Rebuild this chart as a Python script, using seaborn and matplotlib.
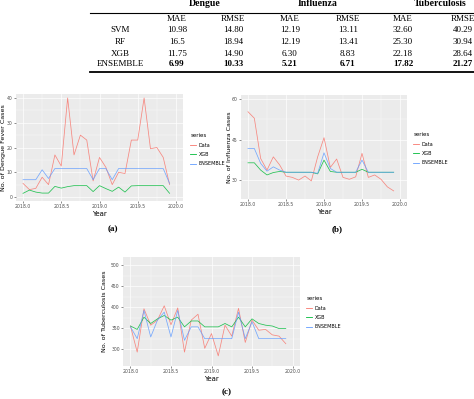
import numpy as np
import pandas as pd
import matplotlib
matplotlib.use("Agg")
import matplotlib.pyplot as plt
from matplotlib.lines import Line2D
import seaborn as sns

# ---- table values ----
models = ["SVM", "RF", "XGB", "ENSEMBLE"]
diseases = ["Dengue", "Influenza", "Tuberculosis"]
dengue_mae = ["10.98", "16.5", "11.75", "6.99"]
dengue_rmse = ["14.80", "18.94", "14.90", "10.33"]
flu_mae = ["12.19", "12.19", "6.30", "5.21"]
flu_rmse = ["13.11", "13.41", "8.83", "6.71"]
tb_mae = ["32.60", "25.30", "22.18", "17.82"]
tb_rmse = ["40.29", "30.94", "28.64", "21.27"]

# ---- monthly series, Jan 2018 .. Dec 2019 ----
years = 2018 + np.arange(24) / 12
series_names = ["Data", "XGB", "ENSEMBLE"]

dengue_data = [5.5, 3, 3.5, 8, 5, 17, 12.5, 40, 17, 25, 23, 6.5,
               16, 12, 5, 10, 9.5, 23, 23, 40, 19.5, 20, 16, 5]
dengue_xgb = [1.5, 2.8, 2.0, 1.6, 1.6, 4.3, 3.6, 4.2, 4.6, 4.6, 4.6, 2.2,
              4.6, 3.4, 2.3, 4.0, 2.0, 4.5, 4.6, 4.6, 4.6, 4.6, 4.6, 1.5]
dengue_ens = [7, 7, 7, 11, 7.5, 11.5, 11.5, 11.5, 11.5, 11.5, 11.5, 7,
              11.5, 11.5, 7, 11.5, 11.5, 11.5, 11.5, 11.5, 11.5, 11.5, 11.5, 5.5]

flu_data = [55.3, 52.9, 38.0, 33.7, 38.6, 35.6, 31.5, 31.0, 30.0, 31.5, 29.7, 38.6,
            45.7, 34.7, 37.8, 31.0, 30.3, 31.2, 39.9, 31.0, 31.9, 30.3, 27.5, 26.0]
flu_xgb = [36.4, 36.4, 33.7, 31.9, 32.8, 33.2, 32.9, 32.9, 32.9, 32.9, 32.9, 32.3,
           37.4, 33.2, 32.9, 32.9, 32.9, 32.9, 34.0, 32.9, 32.9, 32.9, 32.9, 32.9]
flu_ens = [41.7, 41.7, 36.2, 33.3, 34.9, 33.7, 32.9, 32.9, 32.9, 32.9, 32.9, 32.5,
           40.1, 34.3, 32.9, 32.9, 32.9, 32.9, 37.4, 32.9, 32.9, 32.9, 32.9, 32.9]

tb_data = [355, 293, 396, 357, 369, 403, 358, 398, 293, 369, 383, 302,
           337, 284, 357, 331, 397, 316, 369, 345, 347, 334, 331, 313]
tb_xgb = [355, 347, 376, 361, 372, 380, 369, 376, 353, 367, 367, 353,
          353, 353, 361, 353, 376, 353, 372, 361, 357, 355, 349, 349]
tb_ens = [353, 325, 392, 329, 369, 388, 329, 392, 321, 353, 353, 325,
          325, 325, 325, 325, 388, 325, 365, 325, 325, 325, 325, 325]

palette = {"Data": "#F8766D", "XGB": "#00BA38", "ENSEMBLE": "#619CFF"}

W, H = 474, 399
fig = plt.figure(figsize=(W / 100, H / 100), dpi=100)


def fx(x):
    return x / W


def fy(y):
    return 1 - y / H


def rect(l, t, r, b):
    return [l / W, 1 - b / H, (r - l) / W, (b - t) / H]


def long_df(data, xgb, ens):
    return pd.DataFrame({
        "Year": np.tile(years, 3),
        "value": np.concatenate([data, xgb, ens]),
        "series": np.repeat(series_names, 24),
    })


def panel(box, df, ylim, yticks, ylabel, ylab_x, leg_xy, tag, tag_xy):
    ax = fig.add_axes(rect(*box))
    sns.lineplot(data=df, x="Year", y="value", hue="series", palette=palette,
                 hue_order=series_names, lw=0.55, alpha=0.85, legend=False, ax=ax)
    ax.set_facecolor("#EBEBEB")
    for s in ax.spines.values():
        s.set_visible(False)
    ax.set_xlim(2017.908, 2020.092)
    ax.set_ylim(*ylim)
    ax.set_xticks([2018, 2018.5, 2019, 2019.5, 2020])
    ax.set_xticklabels(["2018.0", "2018.5", "2019.0", "2019.5", "2020.0"])
    ax.set_xticks([2018.25, 2018.75, 2019.25, 2019.75], minor=True)
    ax.set_yticks(yticks)
    step = yticks[1] - yticks[0]
    ax.set_yticks([t + step / 2 for t in yticks[:-1]], minor=True)
    ax.set_axisbelow(True)
    ax.grid(which="major", color="white", lw=0.5)
    ax.grid(which="minor", color="white", lw=0.25)
    ax.tick_params(which="major", length=1.5, width=0.4, color="#333333",
                   labelsize=3.3, labelcolor="#4D4D4D", pad=0.8)
    ax.tick_params(which="minor", length=0)
    ax.set_xlabel("Year", fontsize=5, labelpad=1)
    ax.set_ylabel(ylabel, fontsize=4.6)
    ax.yaxis.set_label_coords((ylab_x - box[0]) / (box[2] - box[0]), 0.5)
    handles = [Line2D([], [], color=palette[n], lw=0.6) for n in series_names]
    ax.legend(handles, series_names, title="series", loc="upper left",
              bbox_to_anchor=(fx(leg_xy[0]), fy(leg_xy[1])),
              bbox_transform=fig.transFigure, frameon=False,
              fontsize=3.5, title_fontsize=4, handlelength=1.2,
              handletextpad=0.5, labelspacing=0.9, alignment="left")
    fig.text(fx(tag_xy[0]), fy(tag_xy[1]), tag, ha="center", va="center",
             fontsize=6.5, fontweight="bold", family="Liberation Serif")
    return ax


panel((16, 94, 183, 201), long_df(dengue_data, dengue_xgb, dengue_ens),
      (-1.6, 41.6), [0, 10, 20, 30, 40], "No. of Dengue Fever Cases", 6,
      (186, 129), "(a)", (113, 229))
panel((241, 95, 407, 199), long_df(flu_data, flu_xgb, flu_ens),
      (23, 61.5), [30, 45, 60], "No. of Influenza Cases", 232,
      (409, 128), "(b)", (337, 229))
panel((123, 257, 300, 366), long_df(tb_data, tb_xgb, tb_ens),
      (260, 519), [300, 350, 400, 450, 500], "No. of Tuberculosis Cases", 107,
      (302, 292), "(c)", (227, 392))

# ---- table ----
serif = "Liberation Serif"
tsize = 6.5
for name, cx in zip(diseases, [205, 318, 440]):
    fig.text(fx(cx), fy(4), name, ha="center", va="center", fontsize=7,
             fontweight="bold", family=serif)
fig.add_artist(Line2D([fx(90), 1], [fy(12.5), fy(12.5)], color="black", lw=0.8))
fig.add_artist(Line2D([fx(90), 1], [fy(71.5), fy(71.5)], color="black", lw=1.3))

col_x = [177, 233, 290, 348, 403, 463]
for cx, h in zip(col_x, ["MAE", "RMSE"] * 3):
    fig.text(fx(cx), fy(19), h, ha="center", va="center", fontsize=tsize, family=serif)

row_y = [30.5, 42, 53.5, 64.5]
cols = [dengue_mae, dengue_rmse, flu_mae, flu_rmse, tb_mae, tb_rmse]
for i, (m, ry) in enumerate(zip(models, row_y)):
    fig.text(fx(120), fy(ry), m, ha="center", va="center", fontsize=tsize, family=serif)
    w = "bold" if m == "ENSEMBLE" else "normal"
    for cx, col in zip(col_x, cols):
        fig.text(fx(cx), fy(ry), col[i], ha="center", va="center", fontsize=tsize,
                 fontweight=w, family=serif)

fig.savefig("out.png", dpi=100)
